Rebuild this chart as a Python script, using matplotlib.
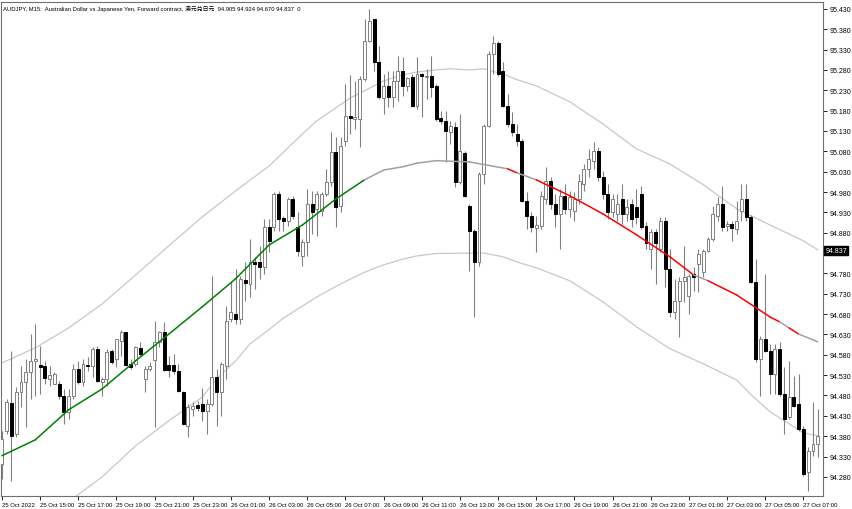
import numpy as np
import matplotlib
matplotlib.use("Agg")
import matplotlib.pyplot as plt
import matplotlib.transforms as mtransforms

# AUDJPY M15 candles, 25 Oct 13:00 -> 27 Oct 07:45
opens = [
    94.312, 94.393, 94.462, 94.386, 94.489, 94.514, 94.538, 94.565, 94.555, 94.553,
    94.521, 94.509, 94.509, 94.479, 94.440, 94.479, 94.545, 94.514, 94.555, 94.553,
    94.595, 94.514, 94.521, 94.590, 94.570, 94.614, 94.636, 94.558, 94.558, 94.597,
    94.521, 94.545, 94.568, 94.612, 94.636, 94.555, 94.555, 94.541, 94.489, 94.405,
    94.447, 94.457, 94.459, 94.442, 94.459, 94.526, 94.489, 94.553, 94.668, 94.681,
    94.668, 94.764, 94.754, 94.808, 94.808, 94.796, 94.894, 94.894, 94.975, 94.917,
    94.909, 94.963, 94.894, 94.823, 94.858, 94.951, 94.939, 94.934, 94.975, 95.005,
    95.079, 94.946, 95.106, 95.167, 95.160, 95.160, 95.258, 95.351, 95.405, 95.300,
    95.211, 95.241, 95.214, 95.253, 95.278, 95.241, 95.263, 95.192, 95.270, 95.263,
    95.265, 95.241, 95.162, 95.155, 95.128, 95.140, 95.005, 95.076, 94.946, 94.885,
    94.808, 95.025, 95.143, 95.319, 95.346, 95.278, 95.192, 95.147, 95.123, 95.106,
    94.958, 94.921, 94.892, 94.897, 94.963, 95.007, 94.951, 94.926, 94.971, 94.939,
    94.934, 94.963, 95.000, 95.037, 95.057, 95.081, 95.017, 94.975, 94.931, 94.926,
    94.963, 94.926, 94.951, 94.944, 94.975, 94.897, 94.840, 94.882, 94.840, 94.909,
    94.791, 94.686, 94.713, 94.762, 94.725, 94.779, 94.803, 94.784, 94.835, 94.865,
    94.921, 94.951, 94.897, 94.902, 94.889, 94.934, 94.963, 94.919, 94.759, 94.570,
    94.619, 94.590, 94.533, 94.595, 94.484, 94.428, 94.476, 94.459, 94.398, 94.292,
    94.344, 94.361,
]
highs = [
    94.393, 94.472, 94.590, 94.501, 94.553, 94.570, 94.631, 94.656, 94.602, 94.565,
    94.553, 94.538, 94.516, 94.496, 94.496, 94.558, 94.565, 94.570, 94.575, 94.600,
    94.602, 94.526, 94.595, 94.595, 94.619, 94.641, 94.636, 94.570, 94.602, 94.612,
    94.553, 94.563, 94.663, 94.639, 94.661, 94.577, 94.582, 94.558, 94.491, 94.459,
    94.464, 94.467, 94.499, 94.472, 94.774, 94.545, 94.563, 94.700, 94.759, 94.791,
    94.774, 94.808, 94.865, 94.821, 94.848, 94.914, 94.914, 94.980, 94.983, 94.921,
    94.968, 94.971, 94.931, 94.865, 94.988, 94.983, 94.983, 94.980, 95.037, 95.128,
    95.116, 95.116, 95.246, 95.268, 95.253, 95.265, 95.405, 95.430, 95.405, 95.339,
    95.270, 95.278, 95.278, 95.315, 95.312, 95.263, 95.270, 95.312, 95.273, 95.283,
    95.315, 95.246, 95.179, 95.179, 95.155, 95.152, 95.172, 95.081, 94.951, 94.889,
    95.030, 95.147, 95.327, 95.364, 95.351, 95.300, 95.221, 95.177, 95.147, 95.111,
    94.980, 94.931, 94.921, 94.983, 95.042, 95.017, 94.975, 94.988, 95.000, 94.983,
    94.980, 95.025, 95.049, 95.086, 95.103, 95.091, 95.032, 95.000, 94.975, 94.975,
    95.000, 94.963, 94.963, 94.988, 94.995, 94.907, 94.889, 94.889, 94.919, 94.919,
    94.840, 94.767, 94.771, 94.848, 94.779, 94.796, 94.840, 94.840, 94.870, 94.946,
    94.968, 94.995, 94.909, 94.909, 94.958, 95.000, 95.000, 94.924, 94.816, 94.626,
    94.779, 94.607, 94.607, 94.612, 94.550, 94.565, 94.528, 94.533, 94.405, 94.354,
    94.464, 94.447,
]
lows = [
    94.275, 94.386, 94.270, 94.378, 94.452, 94.403, 94.472, 94.479, 94.484, 94.509,
    94.504, 94.509, 94.472, 94.410, 94.423, 94.472, 94.509, 94.504, 94.541, 94.526,
    94.514, 94.479, 94.504, 94.558, 94.550, 94.577, 94.553, 94.545, 94.553, 94.577,
    94.489, 94.541, 94.403, 94.600, 94.541, 94.526, 94.533, 94.489, 94.408, 94.378,
    94.430, 94.442, 94.418, 94.386, 94.455, 94.405, 94.430, 94.521, 94.661, 94.656,
    94.656, 94.713, 94.722, 94.742, 94.767, 94.779, 94.833, 94.885, 94.885, 94.885,
    94.897, 94.914, 94.823, 94.798, 94.823, 94.877, 94.872, 94.921, 94.971, 94.995,
    94.894, 94.931, 95.093, 95.123, 95.135, 95.091, 95.253, 95.349, 95.278, 95.209,
    95.172, 95.189, 95.189, 95.204, 95.216, 95.229, 95.189, 95.184, 95.165, 95.209,
    95.214, 95.155, 95.147, 95.054, 95.098, 94.993, 95.000, 94.968, 94.786, 94.673,
    94.798, 95.000, 95.140, 95.270, 95.265, 95.189, 95.140, 95.118, 95.093, 94.956,
    94.889, 94.882, 94.833, 94.889, 94.951, 94.939, 94.894, 94.840, 94.926, 94.919,
    94.909, 94.951, 94.983, 95.017, 95.037, 95.007, 94.963, 94.914, 94.919, 94.909,
    94.902, 94.909, 94.894, 94.902, 94.889, 94.840, 94.791, 94.754, 94.833, 94.747,
    94.673, 94.668, 94.624, 94.710, 94.681, 94.737, 94.735, 94.771, 94.833, 94.860,
    94.909, 94.885, 94.885, 94.860, 94.877, 94.909, 94.909, 94.757, 94.563, 94.479,
    94.587, 94.484, 94.484, 94.479, 94.386, 94.423, 94.452, 94.393, 94.283, 94.246,
    94.332, 94.329,
]
closes = [
    94.374, 94.464, 94.381, 94.489, 94.514, 94.538, 94.565, 94.570, 94.550, 94.523,
    94.531, 94.533, 94.479, 94.440, 94.479, 94.545, 94.514, 94.558, 94.553, 94.595,
    94.516, 94.521, 94.587, 94.563, 94.619, 94.636, 94.555, 94.550, 94.600, 94.582,
    94.545, 94.553, 94.612, 94.636, 94.543, 94.543, 94.541, 94.491, 94.410, 94.452,
    94.455, 94.450, 94.442, 94.459, 94.526, 94.489, 94.558, 94.663, 94.686, 94.668,
    94.767, 94.757, 94.808, 94.803, 94.796, 94.894, 94.860, 94.975, 94.914, 94.909,
    94.963, 94.921, 94.835, 94.858, 94.951, 94.931, 94.975, 94.975, 95.005, 95.079,
    94.944, 95.093, 95.167, 95.162, 95.165, 95.258, 95.351, 95.401, 95.300, 95.214,
    95.241, 95.214, 95.253, 95.278, 95.241, 95.260, 95.192, 95.270, 95.265, 95.265,
    95.238, 95.160, 95.155, 95.130, 95.143, 95.005, 95.081, 94.971, 94.885, 94.808,
    95.025, 95.143, 95.319, 95.346, 95.270, 95.192, 95.147, 95.128, 95.106, 94.958,
    94.921, 94.894, 94.899, 94.971, 95.007, 94.951, 94.926, 94.971, 94.939, 94.968,
    94.963, 95.007, 95.037, 95.061, 95.081, 95.017, 94.975, 94.931, 94.963, 94.951,
    94.926, 94.944, 94.914, 94.919, 94.894, 94.855, 94.882, 94.855, 94.909, 94.791,
    94.686, 94.713, 94.762, 94.771, 94.774, 94.771, 94.828, 94.835, 94.865, 94.926,
    94.951, 94.894, 94.902, 94.892, 94.909, 94.963, 94.919, 94.759, 94.570, 94.619,
    94.590, 94.533, 94.595, 94.484, 94.423, 94.476, 94.455, 94.398, 94.287, 94.344,
    94.361, 94.381,
]

# moving average (middle line), read at these bar indices
ma_idx = [0, 7, 14, 21, 28, 35, 42, 49, 56, 63, 70, 76, 80, 84, 87, 91, 98, 106, 108,
          112, 119, 126, 133, 140, 145, 148, 154, 161, 163, 165, 167, 171]
ma_val = [94.332, 94.371, 94.445, 94.496, 94.565, 94.631, 94.698, 94.767, 94.850, 94.899,
          94.963, 95.010, 95.034, 95.042, 95.051, 95.057, 95.054, 95.037, 95.027, 95.010,
          94.971, 94.926, 94.875, 94.821, 94.776, 94.762, 94.727, 94.673, 94.661, 94.646,
          94.631, 94.612]
# colour of each piece between two readings: g rising, r falling, n flat
ma_col = (["g"] * 11 + ["n"] * 6 + ["r", "n"] + ["r"] * 5 + ["n"] + ["r"] * 3
          + ["n", "r", "n"])

# envelope lines
up_idx = [0, 7, 14, 21, 28, 35, 42, 49, 56, 63, 66, 70, 73, 76, 80, 84, 87, 91, 94, 98,
          101, 105, 108, 112, 119, 126, 133, 140, 147, 154, 161, 168, 171]
upper = [94.560, 94.597, 94.646, 94.705, 94.776, 94.848, 94.919, 94.983, 95.044, 95.123,
         95.155, 95.187, 95.211, 95.229, 95.253, 95.268, 95.275, 95.280, 95.283, 95.280,
         95.283, 95.270, 95.256, 95.241, 95.202, 95.147, 95.086, 95.049, 94.998, 94.939,
         94.899, 94.860, 94.838]
lo_idx = [0, 7, 14, 21, 28, 35, 42, 45, 49, 52, 56, 59, 63, 66, 70, 73, 76, 80, 84, 87,
          91, 98, 101, 105, 108, 112, 119, 126, 133, 140, 147, 154, 157, 161, 168, 171]
lower = [94.106, 94.145, 94.219, 94.280, 94.356, 94.418, 94.476, 94.521, 94.565, 94.607,
         94.642, 94.670, 94.700, 94.722, 94.748, 94.766, 94.783, 94.801, 94.815, 94.823,
         94.829, 94.830, 94.830, 94.821, 94.808, 94.794, 94.762, 94.710, 94.649, 94.595,
         94.558, 94.518, 94.482, 94.440, 94.388, 94.381]

time_labels = ["25 Oct 2022", "25 Oct 15:00", "25 Oct 17:00", "25 Oct 19:00", "25 Oct 21:00",
               "25 Oct 23:00", "26 Oct 01:00", "26 Oct 03:00", "26 Oct 05:00", "26 Oct 07:00",
               "26 Oct 09:00", "26 Oct 11:00", "26 Oct 13:00", "26 Oct 15:00", "26 Oct 17:00",
               "26 Oct 19:00", "26 Oct 21:00", "26 Oct 23:00", "27 Oct 01:00", "27 Oct 03:00",
               "27 Oct 05:00", "27 Oct 07:00"]
bars_per_label = 8
price_ticks = [95.430, 95.380, 95.330, 95.280, 95.230, 95.180, 95.130, 95.080, 95.030,
               94.980, 94.930, 94.880, 94.780, 94.730, 94.680, 94.630, 94.580, 94.530,
               94.480, 94.430, 94.380, 94.330, 94.280]
last_price = 94.837
title = ("AUDJPY, M15:  Australian Dollar vs Japanese Yen, Forward contract, 澳元兑日元  "
         "94.905 94.924 94.670 94.837  0")

colors = {"g": "#008000", "r": "#ff0000", "n": "#a0a0a0"}
font = ["Liberation Sans", "Noto Sans CJK SC", "DejaVu Sans"]
plt.rcParams["font.family"] = font

o = np.array(opens)
h = np.array(highs)
l = np.array(lows)
c = np.array(closes)
x = np.arange(len(o))
up = c >= o

fig = plt.figure(figsize=(8.52, 5.10), dpi=100)
ax = fig.add_axes([1 / 852, 13 / 510, 822 / 852, 494 / 510])

# envelopes
ax.plot(up_idx, upper, color="#c8c8c8", lw=0.9, zorder=1)
ax.plot(lo_idx, lower, color="#c8c8c8", lw=0.9, zorder=1)

# wicks
ax.vlines(x, l, h, color="#808080", lw=0.8, zorder=2)

# bodies
ax.bar(x[up], c[up] - o[up], bottom=o[up], width=0.62, color="white",
       edgecolor="#808080", linewidth=0.7, zorder=3)
ax.bar(x[~up], c[~up] - o[~up], bottom=o[~up], width=0.62, color="black",
       edgecolor="black", linewidth=0.7, zorder=3)

# coloured MA
for k in range(len(ma_idx) - 1):
    ax.plot(ma_idx[k:k + 2], ma_val[k:k + 2], color=colors[ma_col[k]], lw=1.1,
            solid_capstyle="round", zorder=4)

ax.set_xlim(-0.19, 172.1)
ax.set_ylim(94.233, 95.447)

for s in ax.spines.values():
    s.set_color("#707070")
    s.set_linewidth(0.8)

ax.yaxis.tick_right()
ax.set_yticks(price_ticks)
ax.set_yticklabels([f"{p:.3f}" for p in price_ticks])
ax.tick_params(axis="y", length=3, width=0.6, pad=1.5, labelsize=5, colors="black")

ax.set_xticks(np.arange(len(time_labels)) * bars_per_label)
ax.set_xticklabels(time_labels)
ax.tick_params(axis="x", length=3, width=0.6, pad=1, labelsize=4.3, colors="black")
for t in ax.get_xticklabels():
    t.set_ha("left")

trans = mtransforms.blended_transform_factory(ax.transAxes, ax.transData)
ax.text(1.003, last_price, f"{last_price:.3f}", transform=trans, color="white",
        fontsize=5, va="center", ha="left",
        bbox=dict(boxstyle="square,pad=0.15", fc="black", ec="black"))

ax.text(0.002, 0.994, title, transform=ax.transAxes, fontsize=4.2, va="top", ha="left")

fig.savefig("out.png", dpi=100, facecolor="white")
